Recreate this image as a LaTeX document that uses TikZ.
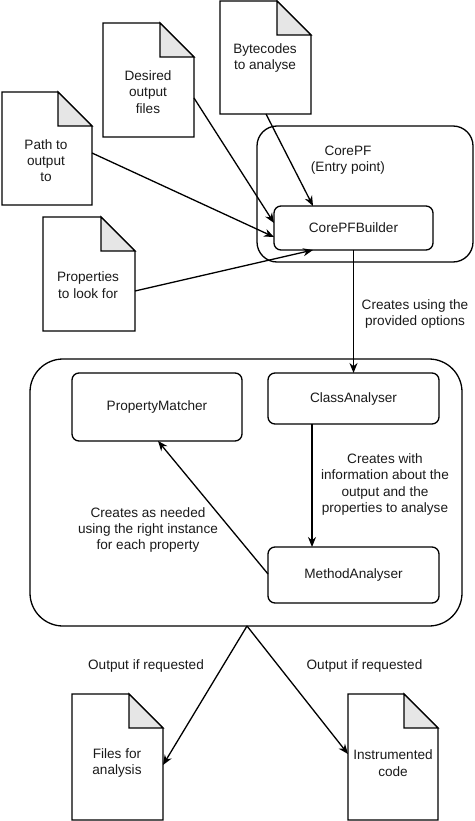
\documentclass[tikz,border=0pt]{standalone}
\usepackage{fontspec}
\setmainfont{Liberation Sans}
\usetikzlibrary{calc,arrows.meta}
\definecolor{foldgray}{HTML}{E6E6E6}
\definecolor{txtcol}{HTML}{1A1A1A}
\newcommand\docnode[5]{%
  \node[docbox, minimum width=#4pt, minimum height=#5pt] (#1) at (#2,#3) {};
  \draw[docline] (#1.north west) -- ($(#1.north east)+(-34,0)$) -- ($(#1.north east)+(0,34)$) -- (#1.south east) -- (#1.south west) -- cycle;
  \filldraw[docline, fill=foldgray] ($(#1.north east)+(-34,0)$) -- ($(#1.north east)+(-34,34)$) -- ($(#1.north east)+(0,34)$) -- cycle;
}
\begin{document}
\begin{tikzpicture}[x=1pt,y=-1pt,
  docbox/.style={draw=none, inner sep=0pt, outer sep=0pt},
  docline/.style={line width=1.3pt, line join=miter},
  lbl/.style={align=center, inner sep=0pt, text=txtcol, font=\fontsize{13.6}{16.3}\selectfont},
  container/.style={draw, line width=1.3pt, inner sep=0pt, outer sep=0pt},
  classbox/.style={draw, line width=1.3pt, rounded corners=7pt, inner sep=0pt, outer sep=0pt, text=txtcol, font=\fontsize{13.6}{16.3}\selectfont},
  conn/.style={line width=1.3pt, -{Stealth[length=10pt,width=8pt]}}
]
\useasboundingbox (0,0) rectangle (474,821);

% documents
\docnode{pathdoc}{47}{148.5}{90}{113}
\docnode{desired}{148.5}{80}{91}{114}
\docnode{bytecodes}{265.5}{57.5}{91}{113}
\docnode{props}{89}{274}{92}{114}
\docnode{files}{117.5}{757}{91}{126}
\docnode{instr}{393}{757}{90}{126}

\node[lbl] (pathtxt) at (46,160.5) {Path to\\output\\to};
\node[lbl] (desiredtxt) at (148,92) {Desired\\output\\files};
\node[lbl] (bytetxt) at (265,58) {Bytecodes\\to analyse};
\node[lbl] (propstxt) at (88,285) {Properties\\to look for};
\node[lbl] (filestxt) at (117,763) {Files for\\analysis};
\node[lbl] (instrtxt) at (393,763) {Instrumented\\code};

% CorePF container
\node[container, rounded corners=20pt, minimum width=216pt, minimum height=136pt] (corepf) at (365,194) {};
\node[lbl] (corepftxt) at (348,160) {CorePF\\(Entry point)};
\node[classbox, minimum width=159pt, minimum height=44pt] (builder) at (353.5,228) {CorePFBuilder};

% main container
\node[container, rounded corners=33pt, minimum width=432pt, minimum height=267pt] (main) at (246,492.5) {};
\node[classbox, minimum width=170pt, minimum height=68pt] (pm) at (157,407) {PropertyMatcher};
\node[classbox, minimum width=171pt, minimum height=51pt] (ca) at (353.5,398.5) {ClassAnalyser};
\node[classbox, minimum width=171pt, minimum height=56pt] (ma) at (353.5,575) {MethodAnalyser};

% connectors
\draw[conn] ($(pathdoc.east)+(0,4.5)$) -- ($(builder.west)+(0,9)$);
\draw[conn] ($(desired.east)+(0,18)$) -- ($(builder.west)+(0,-5)$);
\draw[conn] ($(bytecodes.south)+(0.5,0)$) -- ($(builder.north)+(-40.5,0)$);
\draw[conn] ($(props.east)+(0,17)$) -- ($(builder.south)+(-40.5,0)$);

\draw[conn] (builder.south) -- (ca.north);
\node[lbl] (lbl1) at (415,314) {Creates using the\\provided options};

\draw[conn] ($(ca.south)+(-41.5,0)$) -- ($(ma.north)+(-41.5,0)$);
\node[lbl] (lbl2) at (385,484.5) {Creates with\\information about the\\output and the\\properties to analyse};

\draw[conn] ($(ma.west)+(0,-1)$) -- ($(pm.south)+(1,0)$);
\node[lbl] (lbl3) at (148,530) {Creates as needed\\using the right instance\\for each property};

\coordinate (mainout) at ($(main.south)+(1,0)$);
\draw[conn] (mainout) -- ($(files.east)+(0,8)$);
\draw[conn] (mainout) -- ($(instr.west)+(0,-3)$);
\node[lbl] (lbl4) at (146,666) {Output if requested};
\node[lbl] (lbl5) at (364.5,666) {Output if requested};
\end{tikzpicture}
\end{document}
